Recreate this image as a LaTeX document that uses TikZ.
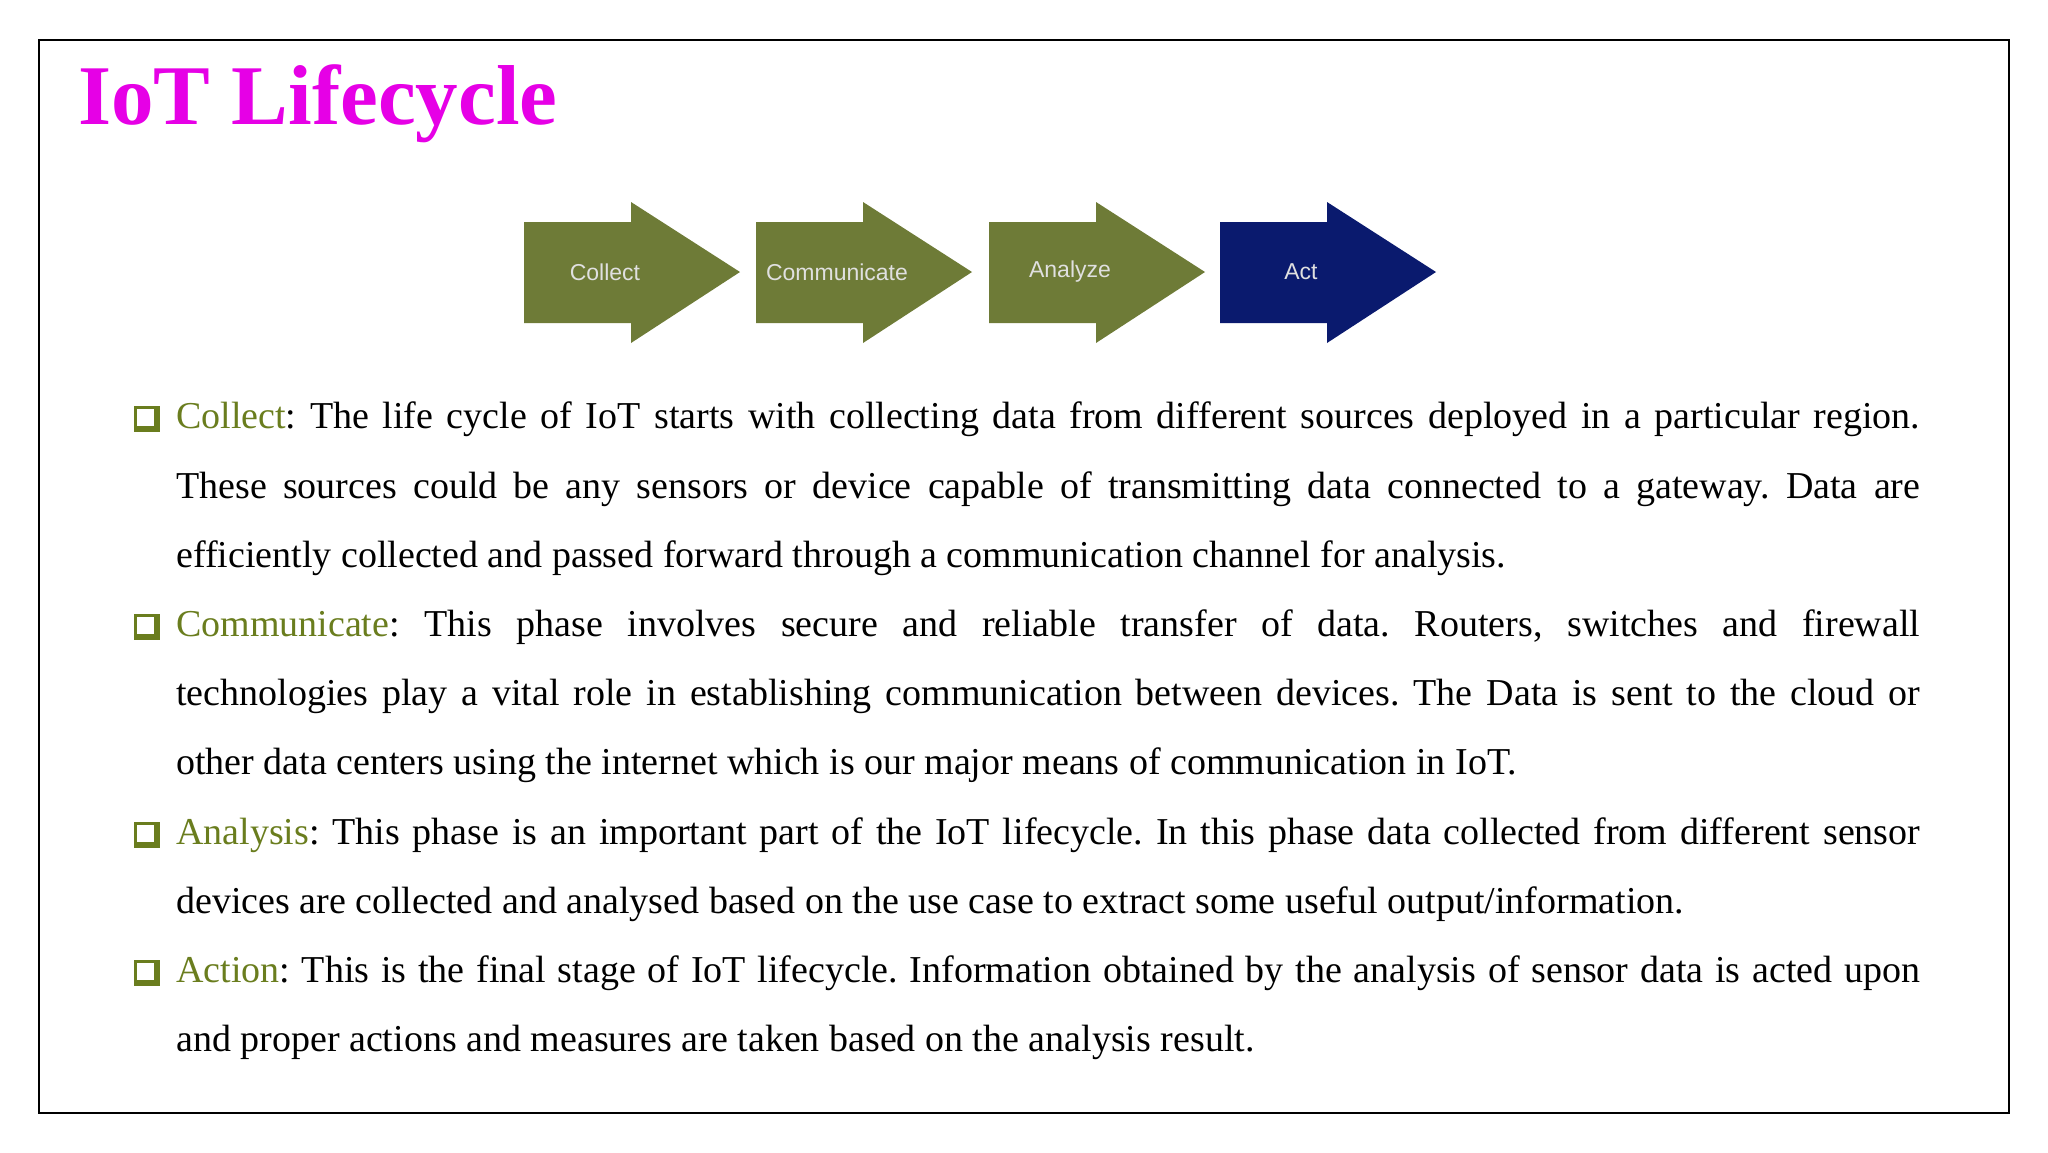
\documentclass[tikz,border=0pt]{standalone}
\usepackage{fontspec}
\setmainfont{Liberation Serif}
\newfontfamily\arrowfont{Liberation Sans}
\definecolor{olivebox}{HTML}{6E7B37}
\definecolor{navybox}{HTML}{0A1A6E}
\definecolor{olivetxt}{HTML}{6A7D1E}
\definecolor{titlemag}{HTML}{E600E6}
\newlength{\linew}\setlength{\linew}{1744pt}
\tikzset{
  stagearrow/.style={fill=#1, draw=none},
  stagelabel/.style={text=white!88!black, font=\arrowfont\fontsize{23}{23}\selectfont, inner sep=0pt},
  bodyline/.style={anchor=base west, inner sep=0pt, font=\frenchspacing\fontsize{38}{38}\selectfont},
}
\newcommand{\jl}[1]{\hbox to \linew{#1}}
\begin{document}
\begin{tikzpicture}[x=1pt,y=-1pt]
\useasboundingbox (0,0) rectangle (2048,1152);
\draw[line width=1.5pt] (39,40) rectangle (2009,1113);
\node[anchor=base west, inner sep=0pt, text=titlemag, font=\bfseries\fontsize{85}{85}\selectfont] (title) at (78,124) {IoT Lifecycle};
% arrows
\foreach \x/\c/\t/\n in {524/olivebox/Collect/a1, 756/olivebox/Communicate/a2, 989/olivebox/Analyze/a3, 1220/navybox/Act/a4}{
  \fill[stagearrow=\c] (\x,222) -- (\x+107,222) -- (\x+107,202) -- (\x+216,272) -- (\x+107,343) -- (\x+107,323) -- (\x,323) -- cycle;
  \node[stagelabel] (\n) at (\x+81,272) {\t};
}
% bullets
\foreach \y in {428,636,844,982}{
  \fill[olivetxt] (134,\y-22) -- (160,\y-22) -- (160,\y+4) -- (134,\y+4) -- cycle;
  \fill[white] (134+3,\y-22+3) rectangle (160-6,\y+4-6);
}
\node[bodyline] (l1) at (176,428) {\jl{\textcolor{olivetxt}{Collect}: The life cycle of IoT starts with collecting data from different sources deployed in a particular region.}};
\node[bodyline] (l2) at (176,498) {\jl{These sources could be any sensors or device capable of transmitting data connected to a gateway. Data are}};
\node[bodyline] (l3) at (176,567) {efficiently collected and passed forward through a communication channel for analysis.};
\node[bodyline] (l4) at (176,636) {\jl{\textcolor{olivetxt}{Communicate}: This phase involves secure and reliable transfer of data. Routers, switches and firewall}};
\node[bodyline] (l5) at (176,705) {\jl{technologies play a vital role in establishing communication between devices. The Data is sent to the cloud or}};
\node[bodyline] (l6) at (176,774) {other data centers using the internet which is our major means of communication in IoT.};
\node[bodyline] (l7) at (176,844) {\jl{\textcolor{olivetxt}{Analysis}: This phase is an important part of the IoT lifecycle. In this phase data collected from different sensor}};
\node[bodyline] (l8) at (176,913) {devices are collected and analysed based on the use case to extract some useful output/information.};
\node[bodyline] (l9) at (176,982) {\jl{\textcolor{olivetxt}{Action}: This is the final stage of IoT lifecycle. Information obtained by the analysis of sensor data is acted upon}};
\node[bodyline] (l10) at (176,1051) {and proper actions and measures are taken based on the analysis result.};
\end{tikzpicture}
\end{document}
